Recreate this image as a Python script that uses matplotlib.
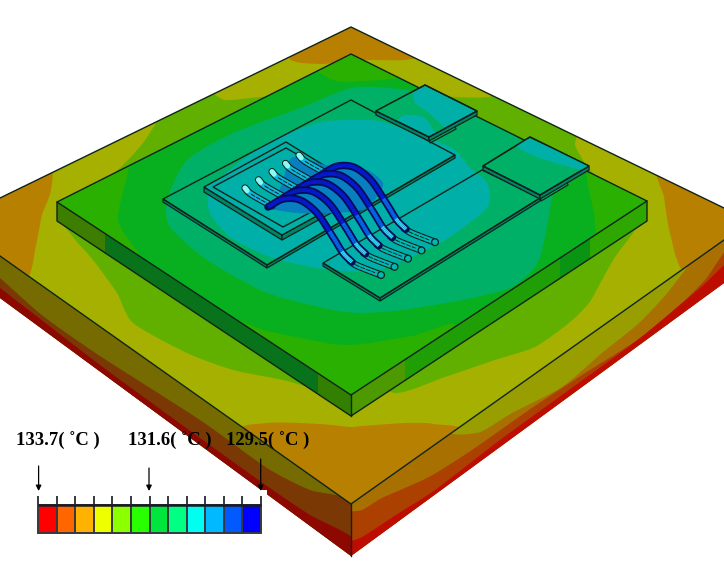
import numpy as np
import matplotlib
matplotlib.use('Agg')
import matplotlib.pyplot as plt
from matplotlib.patches import Polygon, Rectangle, Circle

#-- COLOURS of the thermal bands
BROWN = (0.72, 0.50, 0.00)
OLIVE = (0.65, 0.69, 0.00)
LIME  = (0.38, 0.69, 0.00)
BRIGHT= (0.16, 0.69, 0.00)
GREEN = (0.03, 0.69, 0.12)
SEA   = (0.00, 0.69, 0.40)
TEAL  = (0.00, 0.69, 0.66)
DEEP  = (0.03, 0.50, 0.75)
LINE  = (0.06, 0.14, 0.10)

#-- OUTER PLATE
top_face   = [(351,27),(724,208),(724,240),(351,504),(0,256),(0,198)]
base_left  = [(0,256),(351,504),(351,556),(0,298)]
base_right = [(351,504),(724,240),(724,283),(351,556)]
base_outline = [(0,198),(351,27),(724,208)]

brown_top   = [(290,57),(320,64),(362,60),(405,60),(418,52),(351,10)]
brown_left  = [(-30,190),(47,165),(51,190),(42,215),(36,245),(25,280),(-30,270)]
brown_right = [(660,165),(664,197),(670,233),(687,275),(760,270),(760,180)]
brown_low   = [(240,436),(267,423),(320,424),(350,427),(362,426),(405,423),(434,424),(462,436),(351,530)]
lime_zone = [(125,163),(143,143),(165,112),(203,90),(225,100),(260,97),(351,90),(455,97),(489,97),(502,92),
             (572,128),(575,145),(580,155),(592,172),(640,215),(635,230),(615,257),(602,280),(589,303),
             (569,323),(535,347),(495,360),(445,377),(395,393),(351,370),(333,392),(283,380),(233,370),
             (187,353),(133,323),(117,293),(93,260),(73,237),(57,210),(100,185)]

#-- bands on the side faces
left_brown = [(-20,262),(0,278),(43,316),(100,356),(200,420),(267,468),(310,490),(360,506),(400,600),(-20,340)]
left_red   = [(-20,274),(0,288),(100,365),(200,438),(267,486),(310,515),(360,544),(400,620),(-20,340)]
right_olive  = [(450,420),(477,433),(512,413),(562,387),(602,353),(639,323),(672,287),(700,240),(600,260)]
right_orange = [(330,520),(362,510),(382,498),(429,477),(472,450),(529,410),(579,377),(642,337),(675,310),(705,280),(740,240),(780,320),(360,600)]
right_red    = [(330,552),(362,537),(399,513),(435,490),(500,440),(562,395),(640,338),(700,288),(740,258),(780,320),(360,600)]

#-- MIDDLE PLATE
plate_top   = [(351,54),(647,201),(351,395),(57,202)]
plate_left  = [(57,202),(351,395),(351,416),(57,221)]
plate_right = [(351,395),(647,201),(647,221),(351,416)]

bright_left  = [(127,150),(118,220),(143,268),(20,215)]
bright_right = [(590,160),(594,213),(604,245),(680,210)]
bright_low   = [(225,320),(267,331),(333,344),(362,344),(412,336),(455,328),(351,440)]
bright_up    = [(300,55),(333,80),(362,81),(400,77),(410,55),(351,30)]
sea_zone  = [(351,88),(390,88),(430,95),(473,115),(503,127),(520,140),(555,170),(552,197),(539,260),(512,287),
             (462,300),(402,310),(362,313),(333,310),(267,293),(207,260),(170,227),(167,200),(187,160),(233,133),(300,108)]
teal_zone = [(350,120),(383,122),(450,147),(469,167),(485,180),(490,193),(485,210),(445,240),(389,267),(362,272),
             (317,268),(270,257),(230,237),(210,213),(208,195),(217,180),(267,143),(317,123)]
deep_zone = [(293,157),(333,167),(367,170),(383,183),(377,197),(363,210),(333,213),(297,213),(270,208),(277,197),(283,180)]

side_left_light  = [(57,202),(105,233),(105,252),(57,221)]
side_left_vertex = [(318,373),(351,395),(351,416),(318,395)]
side_right_light = [(351,395),(405,360),(405,381),(351,416)]
side_right_mid   = [(405,360),(560,258),(560,278),(405,381)]
side_right_end   = [(590,238),(647,201),(647,221),(590,258)]

#-- PADS on the plate
pad_main = [(163,199),(351,100),(455,155),(267,265)]
pad_lead = [(323,263),(482,170),(540,198),(380,298)]
pad_one  = [(376,111),(425,85),(477,111),(429,137)]
pad_two  = [(483,166),(530,137),(589,166),(540,195)]
neck_one = [(429,137),(454,124),(456,129),(430,143)]
neck_two = [(540,195),(566,180),(568,185),(541,201)]
one_sea  = [(370,110),(410,92),(415,103),(428,112),(448,132),(438,136),(425,118),(405,115),(392,122)]
two_teal = [(518,135),(595,166),(582,170),(540,158),(519,148)]
pad_depth = 4

#-- CHIP
chip_outer = [(204,187),(286,142),(364,190),(282,235)]
chip_inner = [(213,187),(286,148),(356,188),(283,227)]
chip_depth = 5

#-- WIRES (front one; the others are shifted along the row)
n_wires  = 5
wire_shift = (13.5,-8.2)
foot_chip = [(245,188),(251,194),(272,206)]
wire_arc  = [(268,207),(283,199),(300,200),(317,213),(333,237),(343,253),(352,262)]
foot_lead = [(350,261),(358,266),(381,275)]

#-- LEGEND
legend_colors = ['#ff0000','#ff6600','#ffb200','#eeff00','#8cff00','#28ff00',
                 '#00e63c','#00ff82','#00fff0','#00b9ff','#005aff','#0000ff']
legend_labels = ['133.7( ˚C )','131.6( ˚C )','129.5( ˚C )']
label_x    = [16,128,226]
arrow_x    = [38.6,149,260.7]
arrow_top  = [466,468,459]

fig = plt.figure(figsize=(7.24,5.62), dpi=100)
ax = fig.add_axes([0,0,1,1])
ax.set_xlim(0,724)
ax.set_ylim(562,0)
ax.axis('off')


def smooth(pts, n=10):
    # closed Hermite spline through the read points, soft contour lines
    p = np.array(pts, dtype=float)
    tan = 0.35*(np.roll(p,-1,axis=0)-np.roll(p,1,axis=0))
    out = []
    for i in range(len(p)):
        a, b = p[i], p[(i+1)%len(p)]
        ta, tb = tan[i], tan[(i+1)%len(p)]
        for t in np.linspace(0,1,n,endpoint=False):
            out.append((2*t**3-3*t**2+1)*a + (t**3-2*t**2+t)*ta + (-2*t**3+3*t**2)*b + (t**3-t**2)*tb)
    return np.array(out)


def soft_line(pts, n=8):
    # same idea for an open line
    p = np.array(pts, dtype=float)
    d = np.gradient(p, axis=0)*0.9
    out = []
    for i in range(len(p)-1):
        for t in np.linspace(0,1,n,endpoint=False):
            out.append((2*t**3-3*t**2+1)*p[i] + (t**3-2*t**2+t)*d[i] + (-2*t**3+3*t**2)*p[i+1] + (t**3-t**2)*d[i+1])
    out.append(p[-1])
    return np.array(out)


def face(pts, color, lw=1.0, z=1):
    poly = Polygon(pts, closed=True, facecolor=color, edgecolor=LINE if lw else 'none', linewidth=lw, zorder=z)
    ax.add_patch(poly)
    return poly


def band(pts, color, parent, z, soft=True):
    poly = Polygon(smooth(pts) if soft else pts, closed=True, facecolor=color, edgecolor='none', zorder=z)
    ax.add_patch(poly)
    poly.set_clip_path(parent)
    return poly


def slab(pts, depth, color, side, z):
    # thin pad: two side faces and the lid
    l, t, r, b = pts
    dn = lambda p: (p[0], p[1]+depth)
    face([l,b,dn(b),dn(l)], side, 0.9, z)
    face([b,r,dn(r),dn(b)], side, 0.9, z)
    return face(pts, color, 1.0, z+0.01)


#-- outer plate
tface = face(top_face, OLIVE, 0, 1)
for pts, col in [(lime_zone,LIME),(brown_top,BROWN),(brown_left,BROWN),(brown_right,BROWN),(brown_low,BROWN)]:
    band(pts, col, tface, 1.1)

lf = face(base_left, (0.46,0.42,0.00), 0, 1.2)
band(left_brown, (0.48,0.22,0.02), lf, 1.3)
band(left_red, (0.55,0.03,0.00), lf, 1.4)
rf = face(base_right, (0.66,0.44,0.00), 0, 1.2)
band(right_olive, (0.60,0.62,0.00), rf, 1.3)
band(right_orange, (0.67,0.25,0.00), rf, 1.4)
band(right_red, (0.74,0.05,0.00), rf, 1.5)
ax.plot(*zip(*base_outline), color=LINE, lw=1.0, zorder=2)
ax.plot(*zip(*[(0,256),(351,504),(724,240)]), color=LINE, lw=1.0, zorder=2)
ax.plot(*zip(*[(351,504),(351,556)]), color=LINE, lw=1.0, zorder=2)

#-- middle plate
pl = face(plate_left, (0.03,0.45,0.10), 0, 3)
face(side_left_light, (0.24,0.49,0.00), 0, 3.1).set_clip_path(pl)
face(side_left_vertex, (0.20,0.50,0.00), 0, 3.1).set_clip_path(pl)
pr = face(plate_right, (0.04,0.58,0.08), 0, 3)
face(side_right_light, (0.30,0.60,0.00), 0, 3.1).set_clip_path(pr)
face(side_right_mid, (0.12,0.62,0.02), 0, 3.1).set_clip_path(pr)
face(side_right_end, (0.18,0.66,0.00), 0, 3.1).set_clip_path(pr)
ax.plot(*zip(*[(57,202),(57,221),(351,416),(647,221),(647,201)]), color=LINE, lw=1.0, zorder=3.2)

pt = face(plate_top, GREEN, 0, 4)
for pts, col in [(bright_left,BRIGHT),(bright_right,BRIGHT),(bright_low,BRIGHT),(bright_up,BRIGHT),(sea_zone,SEA),(teal_zone,TEAL)]:
    band(pts, col, pt, 4.1)
ax.add_patch(Polygon(plate_top, closed=True, fill=False, edgecolor=LINE, linewidth=1.0, zorder=4.2))
ax.plot(*zip(*[(351,395),(351,416)]), color=LINE, lw=1.0, zorder=4.2)

#-- pads: no fill of their own on the lid, the contours run across them
side_col = (0.00,0.52,0.42)
slab(pad_main, 3, (0,0,0,0), side_col, 5)
slab(pad_lead, 3, (0,0,0,0), side_col, 5)
for name, base, extra, ecol in [('one',pad_one,one_sea,SEA),('two',pad_two,two_teal,TEAL)]:
    p = slab(base, pad_depth, TEAL if name=='one' else SEA, side_col, 5.2)
    band(extra, ecol, p, 5.25)
    ax.add_patch(Polygon(base, closed=True, fill=False, edgecolor=LINE, linewidth=1.0, zorder=5.3))
face(neck_one, SEA, 0.9, 5.1)
face(neck_two, SEA, 0.9, 5.1)

#-- chip
slab(chip_outer, chip_depth, TEAL, side_col, 6)
ax.add_patch(Polygon(chip_inner, closed=True, facecolor=TEAL, edgecolor=LINE, linewidth=1.0, zorder=6.1))
ax.add_patch(Polygon(smooth(deep_zone), closed=True, facecolor=DEEP, edgecolor='none', zorder=6.2))

#-- wires, back one first
arc_line  = soft_line(wire_arc)
foot_c    = soft_line(foot_chip)
foot_l    = soft_line(foot_lead)
s = np.linspace(0, 1, len(arc_line)-1)
for i in range(n_wires-1, -1, -1):
    dx, dy = wire_shift[0]*i, wire_shift[1]*i
    z = 7 + (n_wires-i)*0.1
    # foot on the chip
    ax.plot(foot_c[:,0]+dx, foot_c[:,1]+dy, color=LINE, lw=5.2, solid_capstyle='round', zorder=z)
    ax.plot(foot_c[:,0]+dx, foot_c[:,1]+dy, color=(0.05,0.72,0.88), lw=3.6, solid_capstyle='round', zorder=z+0.01)
    ax.plot(foot_c[:5,0]+dx, foot_c[:5,1]+dy, color=(0.55,0.98,0.95), lw=3.6, solid_capstyle='round', zorder=z+0.02)
    ax.plot(foot_c[8:-2,0]+dx, foot_c[8:-2,1]+dy, color=LINE, lw=0.7, ls=(0,(5,1)), zorder=z+0.03)
    # foot on the lead pad
    ax.plot(foot_l[:,0]+dx, foot_l[:,1]+dy, color=LINE, lw=5.2, solid_capstyle='round', zorder=z)
    ax.plot(foot_l[:,0]+dx, foot_l[:,1]+dy, color=(0.0,0.72,0.72), lw=3.6, solid_capstyle='round', zorder=z+0.01)
    ax.plot(foot_l[6:-2,0]+dx, foot_l[6:-2,1]+dy, color=LINE, lw=0.7, ls=(0,(5,1)), zorder=z+0.03)
    ax.add_patch(Circle((foot_l[-1,0]+dx, foot_l[-1,1]+dy), 3.4, facecolor=(0.0,0.72,0.72), edgecolor=LINE, lw=0.9, zorder=z+0.04))
    # the arc, dark blue at the top and going cyan down the slope
    ax.plot(arc_line[:,0]+dx, arc_line[:,1]+dy, color=(0.02,0.05,0.35), lw=5.4, solid_capstyle='round', zorder=z+0.05)
    for j in range(len(s)):
        t = s[j]
        if t < 0.62:
            col = (0.02,0.10,0.82)
        elif t < 0.82:
            col = (0.02,0.40,0.92)
        else:
            col = (0.20,0.85,0.95)
        ax.plot(arc_line[j:j+2,0]+dx, arc_line[j:j+2,1]+dy, color=col, lw=2.8, solid_capstyle='butt', zorder=z+0.06)

#-- legend
ax.add_patch(Rectangle((0,490), 267, 20, facecolor='white', edgecolor='none', zorder=8.5))
x_edges = np.linspace(38.2, 260.8, len(legend_colors)+1)
ax.bar(x_edges[:-1], 28, width=np.diff(x_edges), bottom=505, align='edge', color=legend_colors,
       edgecolor=(0.22,0.22,0.25), linewidth=1.4, zorder=9)
ax.vlines(x_edges, 496, 505, color=(0.22,0.22,0.25), lw=1.4, zorder=9)
ax.hlines(505, x_edges[0], x_edges[-1], color=(0.10,0.10,0.15), lw=1.8, zorder=9.1)

for xa, ya in zip(arrow_x, arrow_top):
    ax.annotate('', xy=(xa,491), xytext=(xa,ya), zorder=10,
                arrowprops=dict(arrowstyle='-|>', color='black', lw=0.9, mutation_scale=8, shrinkA=0, shrinkB=0))
for xl, txt in zip(label_x, legend_labels):
    ax.text(xl, 441, txt, family=['Liberation Serif','DejaVu Serif'], weight='bold', fontsize=13.4,
            color='black', ha='left', va='center', zorder=10)

fig.savefig('out.png', dpi=100)
